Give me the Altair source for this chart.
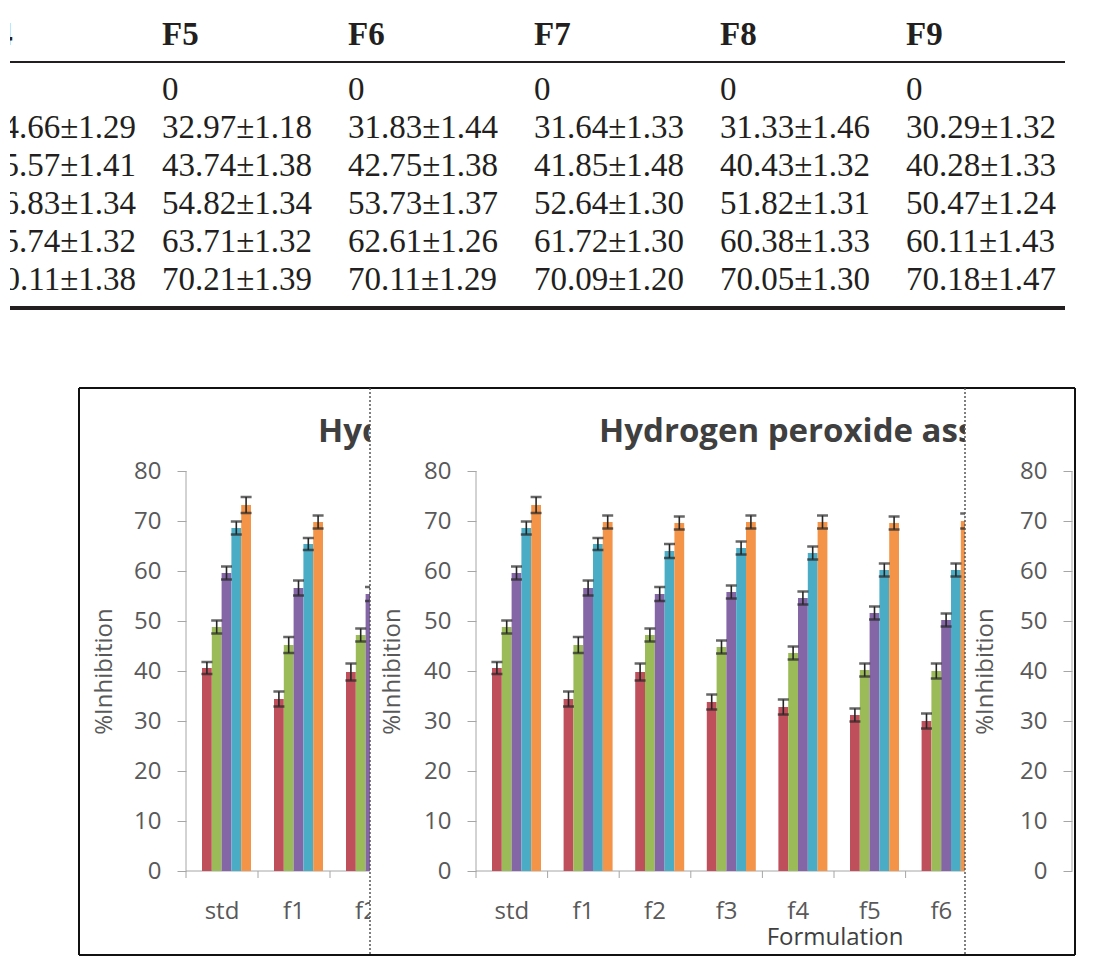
import altair as alt
import pandas as pd

# ---------------- table (top of page) ----------------
table_headers = ["F4", "F5", "F6", "F7", "F8", "F9"]
f4_visible = ["4.66±1.29", "5.57±1.41", "6.83±1.34", "5.74±1.32", "0.11±1.38"]
f5_vals = ["0", "32.97±1.18", "43.74±1.38", "54.82±1.34", "63.71±1.32", "70.21±1.39"]
f6_vals = ["0", "31.83±1.44", "42.75±1.38", "53.73±1.37", "62.61±1.26", "70.11±1.29"]
f7_vals = ["0", "31.64±1.33", "41.85±1.48", "52.64±1.30", "61.72±1.30", "70.09±1.20"]
f8_vals = ["0", "31.33±1.46", "40.43±1.32", "51.82±1.31", "60.38±1.33", "70.05±1.30"]
f9_vals = ["0", "30.29±1.32", "40.28±1.33", "50.47±1.24", "60.11±1.43", "70.18±1.47"]

# ---------------- bar chart data ----------------
categories = ["std", "f1", "f2", "f3", "f4", "f5", "f6"]
series = ["Series1", "Series2", "Series3", "Series4", "Series5"]
s1 = [40.6, 34.4, 39.8, 33.8, 32.8, 31.2, 30.0]
s2 = [48.8, 45.2, 47.2, 44.8, 43.6, 40.2, 40.0]
s3 = [59.6, 56.6, 55.4, 55.8, 54.6, 51.6, 50.2]
s4 = [68.6, 65.4, 64.0, 64.6, 63.6, 60.2, 60.2]
s5 = [73.2, 69.8, 69.6, 69.8, 69.8, 69.6, 70.0]
e1 = [1.2, 1.5, 1.7, 1.5, 1.5, 1.3, 1.5]
e2 = [1.3, 1.6, 1.3, 1.3, 1.3, 1.3, 1.5]
e3 = [1.3, 1.5, 1.4, 1.3, 1.3, 1.3, 1.3]
e4 = [1.3, 1.2, 1.4, 1.3, 1.3, 1.3, 1.3]
e5 = [1.6, 1.3, 1.3, 1.3, 1.3, 1.3, 1.5]
y_ticks = [0, 10, 20, 30, 40, 50, 60, 70, 80]
chart_title = "Hydrogen peroxide assay"
y_title = "%Inhibition"
x_title = "Formulation"

COLORS = ["#bf4f5a", "#9bbb59", "#8466a6", "#4bacc6", "#f39448"]
SERIF = "Liberation Serif"
SANS = "Open Sans"
INK = "#231f20"
AXIS_GRAY = "#a6a6a6"
LABEL_GRAY = "#595959"
TITLE_GRAY = "#3f3f3f"

# ---------------- build table ----------------
vals_rows = []
for col, vals in zip(table_headers[1:], [f5_vals, f6_vals, f7_vals, f8_vals, f9_vals]):
    for i, t in enumerate(vals):
        vals_rows.append({"col": col, "row": i, "text": t})
vals_df = pd.DataFrame(vals_rows)
f4_df = pd.DataFrame({"col": ["F4"] * len(f4_visible),
                      "row": list(range(1, 6)), "text": f4_visible})
hdr_df = pd.DataFrame({"col": table_headers, "text": table_headers})
one = pd.DataFrame({"k": [0]})

TFS = 33
tx = alt.X("col:N", scale=alt.Scale(type="point", domain=table_headers,
                                    range=[-34, 896], padding=0), axis=None)
ty = alt.Y("row:O", scale=alt.Scale(type="point", domain=list(range(6)),
                                    range=[92, 282], padding=0), axis=None)

hdr = alt.Chart(hdr_df).mark_text(font=SERIF, fontSize=TFS, fontWeight="bold", align="left",
                                  baseline="alphabetic", color=INK, clip=True).encode(
    x=tx, y=alt.value(37), text="text:N")
vals_layer = alt.Chart(vals_df).mark_text(font=SERIF, fontSize=TFS, align="left",
                                          baseline="alphabetic", color=INK, clip=True).encode(
    x=tx, y=ty, text="text:N")
f4_layer = alt.Chart(f4_df).mark_text(font=SERIF, fontSize=TFS, align="right", dx=160,
                                      baseline="alphabetic", color=INK, clip=True).encode(
    x=tx, y=ty, text="text:N")
rule_top = alt.Chart(one).mark_rule(color=INK, strokeWidth=2).encode(
    x=alt.value(0), x2=alt.value(1055), y=alt.value(54))
rule_bot = alt.Chart(one).mark_rule(color=INK, strokeWidth=4).encode(
    x=alt.value(0), x2=alt.value(1055), y=alt.value(300))
table = alt.layer(hdr, vals_layer, f4_layer, rule_top, rule_bot).properties(width=1055, height=379)

# ---------------- bar panels ----------------
rows = []
for name, vals, errs in zip(series, [s1, s2, s3, s4, s5], [e1, e2, e3, e4, e5]):
    for c, v, e in zip(categories, vals, errs):
        rows.append({"cat": c, "series": name, "value": v, "base": 0,
                     "lo": v - e, "hi": v + e})
bars_df = pd.DataFrame(rows)
axis_df = pd.DataFrame({"lo": [y_ticks[0]], "hi": [y_ticks[-1]]})
PANEL_H = 568
YS = alt.Scale(domain=[-16.8, 96.8], nice=False, zero=False)


def y_axis(axis_px, title_dx):
    return alt.Axis(orient="left", offset=-axis_px, values=y_ticks, domain=False, grid=False,
                    ticks=True, tickSize=9, tickColor=AXIS_GRAY, tickWidth=1,
                    labelPadding=16, labelFont=SANS, labelFontSize=24, labelColor=LABEL_GRAY,
                    labelFlush=False, labelOverlap=False,
                    title=y_title, titleFont=SANS, titleFontSize=24, titleFontWeight="normal",
                    titleColor=LABEL_GRAY, titleX=title_dx, titleY=284, titleAngle=270,
                    titleAlign="center", titleBaseline="middle")


def panel(width, axis_px, cats, step, title_x, title_limit, ytitle_dx, frame_left=None,
          frame_right=False, sep_left=False, xtitle=False):
    ax = y_axis(axis_px, ytitle_dx)
    layers = []
    layers.append(alt.Chart(axis_df).mark_rule(color=AXIS_GRAY, strokeWidth=1).encode(
        x=alt.value(axis_px), y=alt.Y("lo:Q", scale=YS, axis=ax), y2="hi:Q"))
    if cats:
        xs = alt.Scale(domain=cats, range=[axis_px, axis_px + step * len(cats)],
                       paddingInner=0, paddingOuter=0)
        X = alt.X("cat:N", scale=xs, axis=None)
        XO = alt.XOffset("series:N", scale=alt.Scale(domain=series, range=[16, 65]))
        sub = bars_df[bars_df["cat"].isin(cats)]
        layers.append(alt.Chart(axis_df).mark_rule(color=AXIS_GRAY, strokeWidth=1, clip=True).encode(
            x=alt.value(axis_px), x2=alt.value(width), y=alt.Y("lo:Q", scale=YS, axis=ax)))
        layers.append(alt.Chart(sub).mark_bar(clip=True).encode(
            x=X, xOffset=XO, y=alt.Y("value:Q", scale=YS, axis=ax), y2="base:Q",
            color=alt.Color("series:N", scale=alt.Scale(domain=series, range=COLORS), legend=None)))
        layers.append(alt.Chart(sub).mark_rule(color="#262626", strokeWidth=1.6, clip=True).encode(
            x=X, xOffset=XO, y=alt.Y("lo:Q", scale=YS, axis=ax), y2="hi:Q"))
        for f in ["lo", "hi"]:
            layers.append(alt.Chart(sub).mark_tick(color="#262626", size=11, thickness=2.5,
                                                   orient="horizontal", clip=True).encode(
                x=X, xOffset=XO, y=alt.Y(f"{f}:Q", scale=YS, axis=ax)))
        tick_df = pd.DataFrame({"cat": cats, "t0": [0] * len(cats), "t1": [-1.4] * len(cats)})
        layers.append(alt.Chart(tick_df).mark_rule(color=AXIS_GRAY, strokeWidth=1, clip=True).encode(
            x=alt.X("cat:N", scale=xs, axis=None, bandPosition=0),
            y=alt.Y("t0:Q", scale=YS, axis=ax), y2="t1:Q"))
        lab_df = pd.DataFrame({"cat": cats, "ypos": [-8.2] * len(cats)})
        layers.append(alt.Chart(lab_df).mark_text(font=SANS, fontSize=24, color=LABEL_GRAY,
                                                  baseline="middle", clip=True).encode(
            x=X, y=alt.Y("ypos:Q", scale=YS, axis=ax), text="cat:N"))
    if title_x is not None:
        layers.append(alt.Chart(pd.DataFrame({"t": [chart_title]})).mark_text(
            font=SANS, fontSize=33, fontWeight="bold", color=TITLE_GRAY, align="left",
            baseline="alphabetic", clip=True, limit=title_limit, ellipsis=" ").encode(
            x=alt.value(title_x), y=alt.value(55), text="t:N"))
    if xtitle:
        layers.append(alt.Chart(pd.DataFrame({"t": [x_title]})).mark_text(
            font=SANS, fontSize=24, color=TITLE_GRAY, align="center",
            baseline="alphabetic", clip=True).encode(
            x=alt.value(465), y=alt.value(558), text="t:N"))
    x0 = frame_left if frame_left is not None else 0
    layers.append(alt.Chart(one).mark_rule(color="#111111", strokeWidth=2).encode(
        x=alt.value(x0), x2=alt.value(width), y=alt.value(1)))
    layers.append(alt.Chart(one).mark_rule(color="#111111", strokeWidth=2).encode(
        x=alt.value(x0), x2=alt.value(width), y=alt.value(PANEL_H)))
    if frame_left is not None:
        layers.append(alt.Chart(one).mark_rule(color="#111111", strokeWidth=2).encode(
            x=alt.value(frame_left), y=alt.value(1), y2=alt.value(PANEL_H)))
    if frame_right:
        layers.append(alt.Chart(one).mark_rule(color="#111111", strokeWidth=2).encode(
            x=alt.value(width), y=alt.value(1), y2=alt.value(PANEL_H)))
    if sep_left:
        layers.append(alt.Chart(one).mark_rule(color="#555555", strokeWidth=1.5,
                                               strokeDash=[2, 2]).encode(
            x=alt.value(0), y=alt.value(1), y2=alt.value(PANEL_H)))
    return alt.layer(*layers).properties(width=width, height=PANEL_H)


left = panel(360, 176, categories[:3], 72, 308, 80, -82, frame_left=69)
middle = panel(595, 106, categories, 71.6, 229, 405, -84, sep_left=True, xtitle=True)
right = panel(110, 107, [], 0, None, 0, -87, frame_right=True, sep_left=True)

charts = alt.hconcat(left, middle, right, spacing=0, bounds="flush")
chart = alt.vconcat(table, charts, spacing=0, bounds="flush").properties(
    padding={"left": 0, "top": 0, "right": 4, "bottom": 4}, background="white"
).configure_view(stroke=None)

chart.save("out.html", embed_options={"renderer": "svg", "actions": False})
